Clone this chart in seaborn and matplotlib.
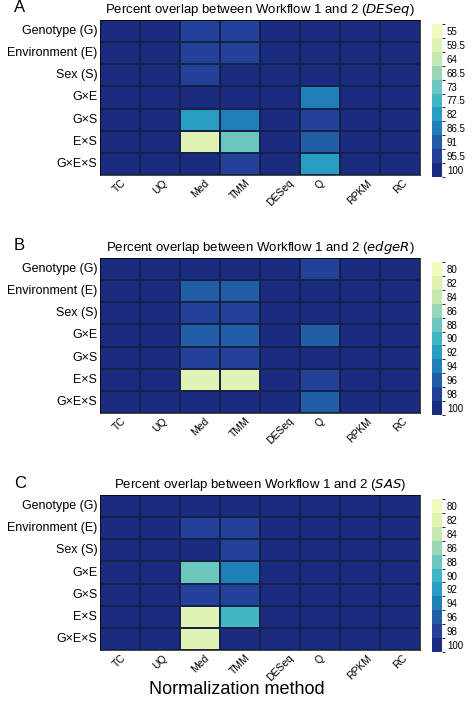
import numpy as np
import pandas as pd
import seaborn as sns
import matplotlib.pyplot as plt
from matplotlib.colors import ListedColormap, BoundaryNorm

plt.rcParams['font.family'] = ['Liberation Sans', 'DejaVu Sans']

rows = ["Genotype (G)", "Environment (E)", "Sex (S)", "G\u00d7E", "G\u00d7S", "E\u00d7S", "G\u00d7E\u00d7S"]
cols = ["TC", "UQ", "Med", "TMM", "DESeq", "Q", "RPKM", "RC"]

deseq = [[99, 99, 93, 93, 99, 96, 98, 98],
         [100, 99, 93, 94, 100, 99, 100, 99],
         [100, 100, 95, 96, 100, 99, 100, 100],
         [99, 100, 96, 98, 99, 83, 98, 99],
         [99, 100, 80, 86, 100, 94, 98, 99],
         [99, 97, 55, 70, 99, 89, 97, 99],
         [100, 100, 98, 94, 100, 78, 98, 99]]
edger = [[100, 100, 100, 100, 100, 97, 100, 100],
         [100, 100, 95, 95, 100, 99, 100, 100],
         [100, 100, 97, 97, 100, 99, 100, 100],
         [100, 98, 95, 95, 100, 95, 98, 100],
         [100, 99, 97, 97, 100, 99, 99, 100],
         [100, 98, 80, 80, 100, 96, 98, 100],
         [100, 99, 98, 98, 100, 94, 98, 100]]
sas = [[100, 100, 100, 100, 100, 100, 100, 100],
       [100, 100, 97, 96, 100, 99, 100, 100],
       [100, 100, 98, 97, 100, 99, 100, 100],
       [100, 98, 86, 92, 100, 99, 100, 100],
       [100, 99, 97, 97, 100, 100, 98, 100],
       [100, 98, 80, 88, 100, 98, 99, 100],
       [100, 100, 80, 98, 100, 99, 98, 100]]

ticks_a = [55, 59.5, 64, 68.5, 73, 77.5, 82, 86.5, 91, 95.5, 100]
ticks_bc = [80, 82, 84, 86, 88, 90, 92, 94, 96, 98, 100]

panels = [("A", "DESeq", deseq, ticks_a),
          ("B", "edgeR", edger, ticks_bc),
          ("C", "SAS", sas, ticks_bc)]

fig = plt.figure(figsize=(4.74, 7.13), dpi=100)
tops = [20, 258, 495]
for (letter, tool, data, ticks), top in zip(panels, tops):
    h = 155
    ax = fig.add_axes([100 / 474, 1 - (top + h) / 713, 320 / 474, h / 713])
    cax = fig.add_axes([432 / 474, 1 - (top + h + 2) / 713, 10 / 474, (h - 2) / 713])
    step = ticks[1] - ticks[0]
    bounds = [ticks[0] - step] + ticks
    n = len(ticks)
    cmap = ListedColormap(sns.color_palette("YlGnBu", n))
    norm = BoundaryNorm(bounds, n)
    df = pd.DataFrame(data, index=rows, columns=cols)
    sns.heatmap(df, ax=ax, cbar_ax=cax, cmap=cmap, norm=norm,
                linewidths=0.15, linecolor="#14224a",
                cbar_kws={"ticks": [b + step / 2 for b in bounds[:-1]]})
    cax.set_yticklabels([f"{t:g}" for t in ticks], fontsize=7)
    cax.invert_yaxis()
    cax.tick_params(length=0)
    ax.tick_params(length=0, pad=2)
    ax.set_yticklabels(rows, rotation=0, fontsize=9)
    ax.set_xticklabels(cols, rotation=45, fontsize=7.5)
    ax.set_xlabel("")
    ax.set_ylabel("")
    for s in ax.spines.values():
        s.set_visible(True)
        s.set_linewidth(0.5)
    ax.set_title(f"Percent overlap between Workflow 1 and 2 ($\\it{{{tool}}}$)", fontsize=9.5, pad=5)
    fig.text(14 / 474, 1 - (top - 12) / 713, letter, fontsize=12, va="center")

fig.text(0.5, 1 - 690 / 713, "Normalization method", ha="center", va="center", fontsize=13)
fig.savefig("out.png", dpi=100)
